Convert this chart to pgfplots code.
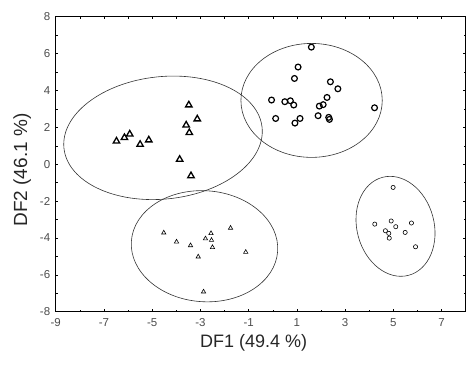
\documentclass[border=0pt]{standalone}
\usepackage{pgfplots}
\pgfplotsset{compat=1.18}
\usepackage{fontspec}
\setmainfont{Liberation Sans}
\usetikzlibrary{calc}
\newcommand{\tl}[1]{{\fontsize{11.5}{13}\selectfont #1}}
\begin{document}
\begin{tikzpicture}
\begin{axis}[
  scale only axis, width=410pt, height=295pt,
  xmin=-9, xmax=8, ymin=-8, ymax=8,
  xtick={-9,-7,...,7}, xticklabels={\tl{-9},\tl{-7},\tl{-5},\tl{-3},\tl{-1},\tl{1},\tl{3},\tl{5},\tl{7}},
  ytick={-8,-6,...,8}, yticklabels={\tl{-8},\tl{-6},\tl{-4},\tl{-2},\tl{0},\tl{2},\tl{4},\tl{6},\tl{8}},
  minor x tick num=1, minor y tick num=1,
  tick align=inside, major tick length=2.5pt, minor tick length=2pt,
  tick style={black, line width=0.5pt},
  axis line style={line width=0.8pt},
  xticklabel style={text=black!70, yshift=-3pt},
  yticklabel style={text=black!70, xshift=-2pt},
  xlabel={DF1 (49.4 \%)}, ylabel={DF2 (46.1 \%)},
  xlabel style={font=\fontsize{18}{20}\selectfont, text=black!85, at={(ticklabel cs:0.483)}, yshift=-1pt},
  ylabel style={font=\fontsize{19}{21}\selectfont, text=black!85, at={(ticklabel cs:0.48)}, yshift=2pt},
  clip=false,
]
% bold triangles
\addplot[only marks, mark=triangle, mark size=3.7pt, line width=1.3pt, black] coordinates {
(-6.48,1.25) (-6.15,1.44) (-5.93,1.63) (-5.50,1.07) (-5.14,1.31)
(-3.48,3.21) (-3.13,2.45) (-3.59,2.12) (-3.46,1.71) (-3.86,0.26) (-3.39,-0.63)};
% large circles
\addplot[only marks, mark=o, mark size=2.9pt, line width=1.2pt, black] coordinates {
(1.60,6.35) (1.05,5.27) (0.90,4.65) (2.39,4.47) (2.70,4.09) (2.25,3.62)
(4.22,3.06) (-0.05,3.48) (0.50,3.39) (0.73,3.44) (0.87,3.21) (1.93,3.15)
(2.09,3.23) (0.12,2.48) (1.13,2.48) (0.92,2.23) (1.88,2.63) (2.32,2.54) (2.35,2.43)};
% small triangles
\addplot[only marks, mark=triangle, mark size=2.5pt, line width=0.6pt, black] coordinates {
(-4.52,-3.72) (-3.99,-4.21) (-3.41,-4.41) (-2.56,-3.75) (-2.79,-4.04)
(-2.54,-4.12) (-2.50,-4.51) (-3.09,-5.02) (-1.75,-3.46) (-1.12,-4.77) (-2.87,-6.92)};
% small circles
\addplot[only marks, mark=o, mark size=2.1pt, line width=0.6pt, black] coordinates {
(4.99,-1.26) (4.23,-3.25) (4.91,-3.08) (5.10,-3.39) (5.75,-3.19)
(5.49,-3.70) (4.67,-3.61) (4.81,-3.75) (4.83,-4.01) (5.92,-4.48)};
% ellipses
\draw[black!80, line width=0.6pt, rotate around={6:(axis cs:-4.55,1.43)}] (axis cs:-4.55,1.43) ellipse [x radius=4.13, y radius=3.32];
\draw[black!80, line width=0.6pt] (axis cs:1.61,3.46) ellipse [x radius=2.93, y radius=3.09];
\draw[black!80, line width=0.6pt, rotate around={-4:(axis cs:-2.83,-4.45)}] (axis cs:-2.83,-4.45) ellipse [x radius=3.04, y radius=3.01];
\draw[black!80, line width=0.6pt, rotate around={15:(axis cs:5.09,-3.37)}] (axis cs:5.09,-3.37) ellipse [x radius=1.6, y radius=2.75];
\end{axis}
\pgfresetboundingbox
\path[use as bounding box] ($(current axis.south west)+(-55.7pt,-57.3pt)$) rectangle ($(current axis.north east)+(8.3pt,16.7pt)$);
\end{tikzpicture}
\end{document}
